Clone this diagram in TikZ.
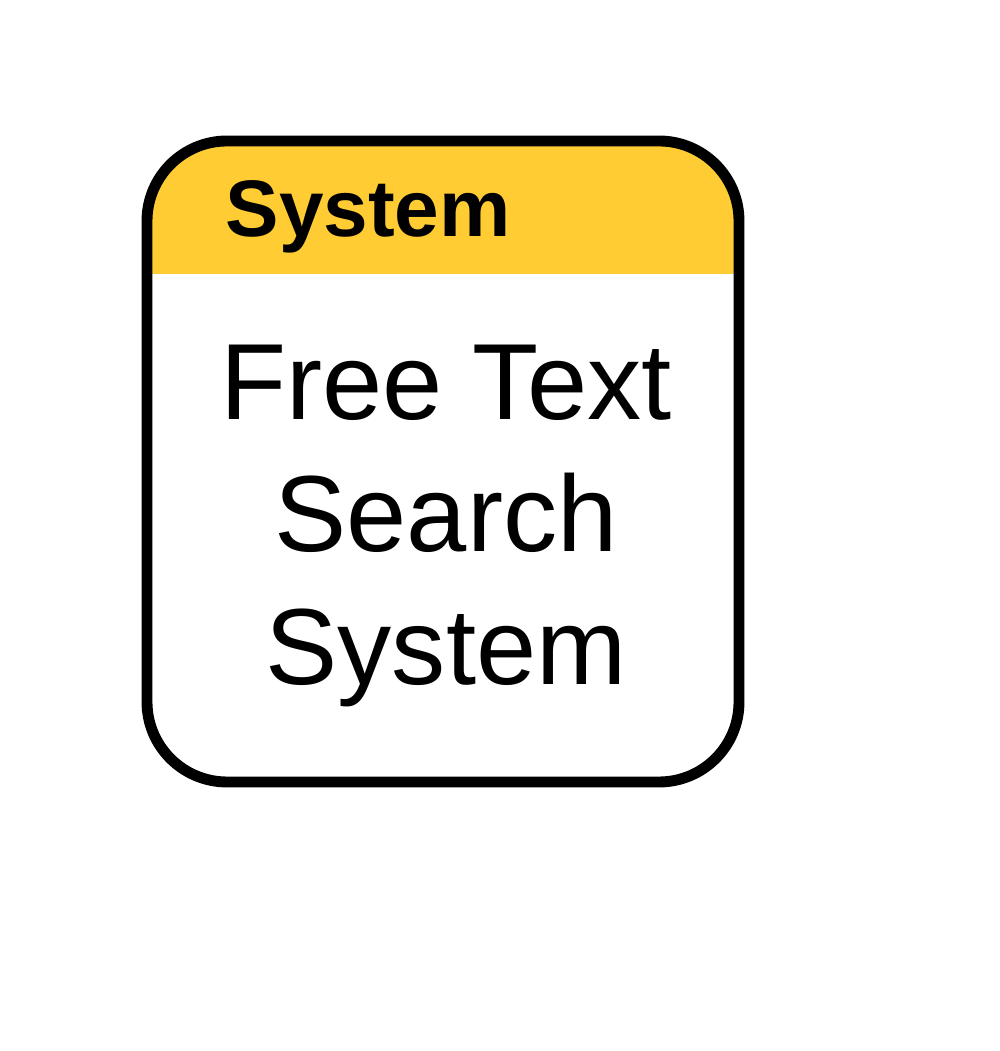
\documentclass[tikz,border=0pt]{standalone}
\usepackage{fontspec}
\setmainfont{Liberation Sans}
\definecolor{headyellow}{RGB}{255,204,51}
\tikzset{
  sysframe/.style={draw=black, line width=3.1pt, rounded corners=0.8cm, minimum width=5.92cm, minimum height=6.41cm, inner sep=0pt},
  headtext/.style={font=\fontsize{22.8}{28}\selectfont\bfseries, inner sep=0pt, anchor=base west},
  bodytext/.style={font=\fontsize{30.8}{37.8}\selectfont, align=center, inner sep=0pt}
}

\begin{document}
\begin{tikzpicture}
            \useasboundingbox (0,0) rectangle (10,10.51);
            \begin{scope}
              \clip[rounded corners=0.8cm] (1.475,2.69) rectangle (7.39,9.10);
              \fill[headyellow] (1.4,7.77) rectangle (7.5,9.2);
            \end{scope}
            \node[sysframe] (sysbox) at (4.43,5.895) {};
            \node[headtext] (syshead) at (2.25,8.14) {System};
            \node[bodytext] (sysname) at (4.46,5.25) {Free Text\\Search\\System};
        \end{tikzpicture}
\end{document}
